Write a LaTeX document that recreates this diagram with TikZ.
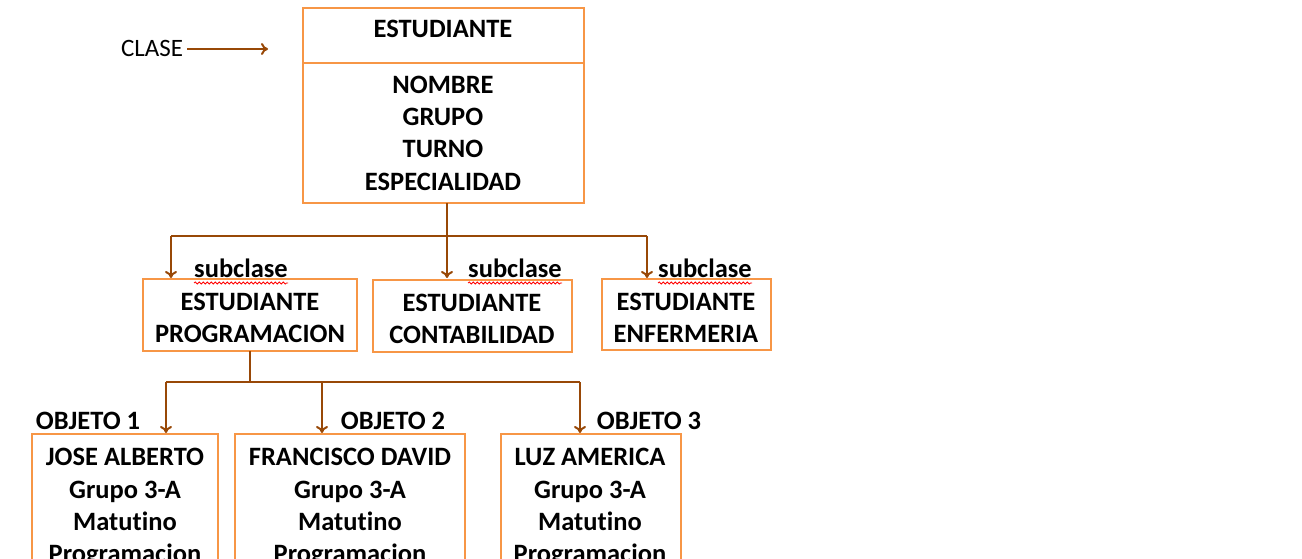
\documentclass[tikz,border=0pt]{standalone}
\usepackage{fontspec}
\setmainfont{Carlito}[Ligatures={NoCommon}]
\usetikzlibrary{arrows.meta,decorations.pathmorphing}
\definecolor{obox}{HTML}{F79646}
\definecolor{arr}{HTML}{984807}
\begin{document}
\begin{tikzpicture}[x=1pt,y=-1pt,
  bx/.style={draw=obox,line width=2.2pt},
  tx/.style={font=\fontsize{26.5}{30}\selectfont\bfseries,inner sep=0pt,anchor=base},
  ln/.style={draw=arr,line width=2.5pt},
  ar/.style={ln,-{To[length=7pt,width=12pt,line width=2pt]}},
  sq/.style={draw=red,line width=0.8pt,decorate,decoration={snake,amplitude=1pt,segment length=4pt}}]
\useasboundingbox (0,0) rectangle (1302,559);
\clip (0,0) rectangle (1302,559);
% top class box
\draw[bx] (303,8) rectangle (584,203);
\draw[bx] (303,63) -- (584,63);
\node[tx] (t0) at (443,38) {ESTUDIANTE};
\node[tx] (t1) at (443,94) {NOMBRE};
\node[tx] (t2) at (443,126) {GRUPO};
\node[tx] (t3) at (443,158) {TURNO};
\node[tx] (t4) at (443,190) {ESPECIALIDAD};
\node[font=\fontsize{25}{28}\selectfont,inner sep=0pt,anchor=base] (cl) at (152,57) {CLASE};
\coordinate (c1) at (187,49); \coordinate (c2) at (268,49);
\draw[ar] (c1) -- (c2);
% branches
\coordinate (p0) at (447,203); \coordinate (p1) at (447,236);
\coordinate (h1) at (171,236); \coordinate (h3) at (647,236);
\coordinate (e1) at (171,278); \coordinate (e2) at (447,278); \coordinate (e3) at (647,278);
\draw[ln] (p0) -- (p1);
\draw[ln] (h1) -- (h3);
\draw[ar] (h1) -- (e1);
\draw[ar] (p1) -- (e2);
\draw[ar] (h3) -- (e3);
\node[tx] (s1) at (241,277) {subclase};
\node[tx] (s2) at (515,277) {subclase};
\node[tx] (s3) at (705,277) {subclase};
\draw[sq] (194,283) -- (288,283);
\draw[sq] (468,283) -- (562,283);
\draw[sq] (658,283) -- (752,283);
% subclass boxes
\draw[bx] (143,279) rectangle (357,351);
\node[tx] at (250,310) {ESTUDIANTE};
\node[tx] at (250,342) {PROGRAMACION};
\draw[bx] (373,280) rectangle (572,352);
\node[tx] at (472,311) {ESTUDIANTE};
\node[tx] at (472,343) {CONTABILIDAD};
\draw[bx] (602,279) rectangle (771,350);
\node[tx] at (686,310) {ESTUDIANTE};
\node[tx] at (686,342) {ENFERMERIA};
% objects
\coordinate (q0) at (250,351); \coordinate (q1) at (250,382);
\coordinate (g1) at (166,382); \coordinate (g2) at (322,382); \coordinate (g3) at (580,382);
\coordinate (f1) at (166,433); \coordinate (f2) at (322,433); \coordinate (f3) at (580,433);
\draw[ln] (q0) -- (q1);
\draw[ln] (g1) -- (g3);
\draw[ar] (g1) -- (f1);
\draw[ar] (g2) -- (f2);
\draw[ar] (g3) -- (f3);
\node[tx] at (88,429) {OBJETO 1};
\node[tx] at (393,429) {OBJETO 2};
\node[tx] at (649,429) {OBJETO 3};
\draw[bx] (32,434) rectangle (218,620);
\draw[bx] (235,434) rectangle (465,620);
\draw[bx] (501,434) rectangle (681,620);
\foreach \x/\n in {125/JOSE ALBERTO,350/FRANCISCO DAVID,590/LUZ AMERICA}{
  \node[tx] at (\x,465) {\n};
  \node[tx] at (\x,498) {Grupo 3-A};
  \node[tx] at (\x,530) {Matutino};
  \node[tx] at (\x,562) {Programacion};
}
\end{tikzpicture}
\end{document}
